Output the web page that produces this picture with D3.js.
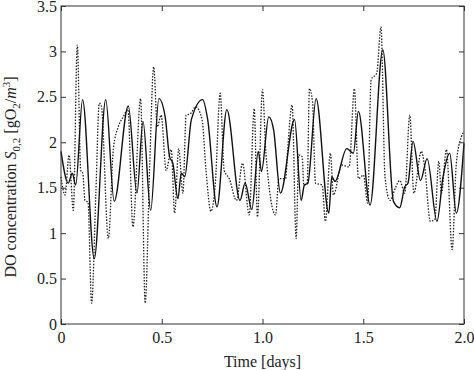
<!DOCTYPE html>
<html lang="en">
	<head>
		<meta charset="utf-8">
		<title>DO concentration</title>
		<script type="text/javascript" src="https://cdnjs.cloudflare.com/ajax/libs/d3/7.8.5/d3.min.js"></script>
		<style type="text/css">
			body { margin: 0; background: #fff; }
			text { font-family: "Liberation Serif", "DejaVu Serif", serif; fill: #222; }
		</style>
	</head>
	<body>
		<script type="text/javascript">
			// solid line (time in days, concentration)
			var solidT = [0.000,0.036,0.056,0.073,0.107,0.165,0.222,0.264,0.334,0.377,0.407,0.445,0.486,0.517,0.539,0.555,0.580,0.597,0.614,0.647,0.703,0.728,0.774,0.823,0.888,0.914,0.947,0.979,0.995,1.031,1.055,1.089,1.159,1.192,1.208,1.225,1.266,1.329,1.344,1.360,1.418,1.451,1.476,1.534,1.597,1.650,1.681,1.706,1.722,1.747,1.784,1.817,1.866,1.896,1.929,1.962,2.000];
			var solidV = [1.90,1.55,1.66,1.53,2.47,0.72,2.47,1.35,2.40,1.44,2.23,1.25,2.48,2.28,1.84,1.77,1.38,1.66,1.62,2.25,2.47,2.25,1.29,2.36,1.36,1.55,1.26,1.90,1.68,2.28,2.14,1.44,2.25,1.36,1.53,1.55,2.48,1.22,1.62,1.57,1.93,1.88,2.34,1.31,3.02,1.35,1.28,1.51,1.55,2.01,1.58,1.82,1.13,1.62,1.88,1.22,1.99];

			// dotted line
			var dotT = [0.000,0.020,0.040,0.061,0.081,0.098,0.108,0.119,0.134,0.152,0.173,0.190,0.200,0.235,0.260,0.284,0.309,0.332,0.357,0.395,0.418,0.440,0.460,0.478,0.497,0.522,0.547,0.564,0.584,0.605,0.621,0.640,0.669,0.700,0.719,0.744,0.766,0.790,0.810,0.835,0.871,0.901,0.934,0.959,0.975,1.000,1.017,1.065,1.081,1.115,1.125,1.147,1.167,1.180,1.197,1.205,1.222,1.233,1.248,1.263,1.296,1.312,1.337,1.352,1.393,1.430,1.456,1.476,1.501,1.522,1.539,1.567,1.588,1.608,1.633,1.660,1.681,1.706,1.731,1.751,1.788,1.805,1.833,1.855,1.875,1.888,1.913,1.941,1.962,1.987,2.000];
			var dotV = [1.62,1.42,1.86,1.25,3.07,1.69,1.66,1.36,1.34,0.23,1.44,2.43,2.40,0.94,1.93,2.17,2.28,2.36,1.07,2.48,0.23,1.73,2.83,2.17,2.30,1.69,1.92,1.22,1.93,1.44,2.30,2.31,2.39,2.25,1.71,1.24,1.55,2.54,1.69,1.60,1.36,1.77,1.20,2.37,1.18,2.58,1.88,1.20,1.60,1.60,1.92,2.41,0.94,1.86,1.84,1.53,1.55,2.59,2.45,1.55,1.53,1.13,1.88,1.42,1.75,1.73,2.59,1.60,1.64,1.33,2.69,2.76,3.27,1.62,1.36,1.50,1.58,1.44,2.30,1.44,1.90,1.73,1.13,1.15,1.79,1.44,1.92,0.82,1.77,2.06,2.12];

			var xTicks = [0, 0.5, 1.0, 1.5, 2.0];
			var xTickLabels = ["0", "0.5", "1.0", "1.5", "2.0"];
			var yTicks = [0, 0.5, 1, 1.5, 2, 2.5, 3, 3.5];

			var w = 474, h = 370;
			var m = {left: 61, right: 464, top: 6, bottom: 324};

			var svg = d3.select("body").append("svg")
				.attr("width", w)
				.attr("height", h);

			var x = d3.scaleLinear().domain([0, 2]).range([m.left, m.right]);
			var y = d3.scaleLinear().domain([0, 3.5]).range([m.bottom, m.top]);

			// axes with inward ticks
			svg.append("g")
				.attr("transform", "translate(0," + m.bottom + ")")
				.call(d3.axisBottom(x).tickValues(xTicks).tickFormat(function(d, i) { return xTickLabels[i]; })
					.tickSizeInner(-5).tickSizeOuter(0).tickPadding(8))
				.call(function(g) { g.select(".domain").remove(); });
			svg.append("g")
				.attr("transform", "translate(0," + m.top + ")")
				.call(d3.axisTop(x).tickValues(xTicks).tickFormat("")
					.tickSizeInner(-5).tickSizeOuter(0))
				.call(function(g) { g.select(".domain").remove(); });
			svg.append("g")
				.attr("transform", "translate(" + m.left + ",0)")
				.call(d3.axisLeft(y).tickValues(yTicks).tickFormat(d3.format("~g"))
					.tickSizeInner(-5).tickSizeOuter(0).tickPadding(4))
				.call(function(g) { g.select(".domain").remove(); });
			svg.append("g")
				.attr("transform", "translate(" + m.right + ",0)")
				.call(d3.axisRight(y).tickValues(yTicks).tickFormat("")
					.tickSizeInner(-5).tickSizeOuter(0))
				.call(function(g) { g.select(".domain").remove(); });

			svg.selectAll(".tick line").attr("stroke", "#333");
			svg.selectAll(".tick text")
				.attr("font-family", "Liberation Serif, serif")
				.attr("font-size", "16px")
				.attr("fill", "#222");

			var line = d3.line()
				.x(function(d) { return x(d[0]); })
				.y(function(d) { return y(d[1]); })
				.curve(d3.curveMonotoneX);

			var solid = d3.zip(solidT, solidV);
			var dotted = d3.zip(dotT, dotV);

			svg.append("path")
				.datum(dotted)
				.attr("d", line)
				.attr("fill", "none")
				.attr("stroke", "#222")
				.attr("stroke-width", 1.3)
				.attr("stroke-dasharray", "1.5,1.5");

			svg.append("path")
				.datum(solid)
				.attr("d", line)
				.attr("fill", "none")
				.attr("stroke", "#111")
				.attr("stroke-width", 1.4);

			// frame
			svg.append("rect")
				.attr("x", m.left)
				.attr("y", m.top)
				.attr("width", m.right - m.left)
				.attr("height", m.bottom - m.top)
				.attr("fill", "none")
				.attr("stroke", "#333")
				.attr("stroke-width", 1);

			// x label
			svg.append("text")
				.attr("x", (m.left + m.right) / 2)
				.attr("y", 367)
				.attr("text-anchor", "middle")
				.attr("font-size", "16px")
				.text("Time [days]");

			// y label
			var yl = svg.append("text")
				.attr("transform", "translate(16,177) rotate(-90)")
				.attr("text-anchor", "middle")
				.attr("font-size", "16px");
			yl.append("tspan").text("DO concentration ");
			yl.append("tspan").attr("font-style", "italic").text("S");
			yl.append("tspan").attr("font-size", "11px").attr("dy", 4).text("0,2");
			yl.append("tspan").attr("dy", -4).text(" [gO");
			yl.append("tspan").attr("font-size", "11px").attr("dy", 4).text("2");
			yl.append("tspan").attr("dy", -4).text("/");
			yl.append("tspan").attr("font-style", "italic").text("m");
			yl.append("tspan").attr("font-size", "11px").attr("dy", -6).text("3");
			yl.append("tspan").attr("dy", 6).text("]");
		</script>
	</body>
</html>
